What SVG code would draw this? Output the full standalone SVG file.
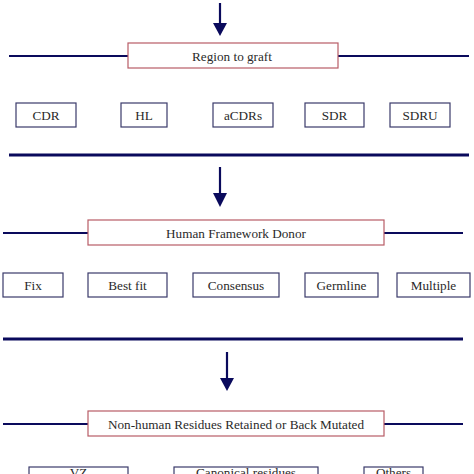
<svg xmlns="http://www.w3.org/2000/svg" width="474" height="474" viewBox="0 0 474 474">
<style>
.bg{fill:#ffffff}
.ln{stroke:#0a0a5c;stroke-width:2.2;fill:none}
.thick{stroke:#0a0a5c;stroke-width:3;fill:none}
.main rect{fill:#ffffff;stroke:#b85c66;stroke-width:1.2}
.opt rect{fill:#ffffff;stroke:#3a3a6a;stroke-width:1.2}
text{font-family:"Liberation Serif","Times New Roman",serif;font-size:13.2px;fill:#2a2a2a;text-anchor:middle}
.head{fill:#0a0a5c}
</style>
<rect class="bg" x="0" y="0" width="474" height="474"/>
<g id="connectors">
  <line class="ln" x1="220" y1="3" x2="220" y2="25"/>
  <polygon class="head" points="213,23 227,23 220,36"/>
  <line class="ln" x1="9" y1="56" x2="128" y2="56"/>
  <line class="ln" x1="338" y1="56" x2="469" y2="56"/>
  <line class="thick" x1="9" y1="155" x2="469" y2="155"/>
  <line class="ln" x1="220" y1="167" x2="220" y2="195"/>
  <polygon class="head" points="213,193 227,193 220,207"/>
  <line class="ln" x1="3" y1="233" x2="88" y2="233"/>
  <line class="ln" x1="384" y1="233" x2="463" y2="233"/>
  <line class="thick" x1="3" y1="339" x2="463" y2="339"/>
  <line class="ln" x1="227" y1="352" x2="227" y2="380"/>
  <polygon class="head" points="220,378 234,378 227,391"/>
  <line class="ln" x1="3" y1="424" x2="88" y2="424"/>
  <line class="ln" x1="384" y1="424" x2="463" y2="424"/>
</g>
<g id="region-to-graft" class="main"><rect x="128" y="43" width="210" height="25"/><text x="232" y="60.5">Region to graft</text></g>
<g id="cdr" class="opt"><rect x="16" y="103" width="60" height="24"/><text x="46" y="119.5">CDR</text></g>
<g id="hl" class="opt"><rect x="121" y="103" width="46" height="24"/><text x="144" y="119.5">HL</text></g>
<g id="acdrs" class="opt"><rect x="213" y="103" width="60" height="24"/><text x="243" y="119.5">aCDRs</text></g>
<g id="sdr" class="opt"><rect x="305" y="103" width="59" height="24"/><text x="334.5" y="119.5">SDR</text></g>
<g id="sdru" class="opt"><rect x="390" y="103" width="60" height="24"/><text x="420" y="119.5">SDRU</text></g>
<g id="human-framework-donor" class="main"><rect x="88" y="220" width="296" height="25"/><text x="236" y="237.5">Human Framework Donor</text></g>
<g id="fix" class="opt"><rect x="3" y="273" width="60" height="24"/><text x="33" y="289.5">Fix</text></g>
<g id="best-fit" class="opt"><rect x="88" y="273" width="79" height="24"/><text x="127.5" y="289.5">Best fit</text></g>
<g id="consensus" class="opt"><rect x="193" y="273" width="86" height="24"/><text x="236" y="289.5">Consensus</text></g>
<g id="germline" class="opt"><rect x="305" y="273" width="73" height="24"/><text x="341.5" y="289.5">Germline</text></g>
<g id="multiple" class="opt"><rect x="397" y="273" width="73" height="24"/><text x="433.5" y="289.5">Multiple</text></g>
<g id="non-human-residues" class="main"><rect x="88" y="411" width="296" height="25"/><text x="236" y="428.5">Non-human Residues Retained or Back Mutated</text></g>
<g id="vz" class="opt"><rect x="29" y="467" width="99" height="24"/><text x="78.5" y="477">VZ</text></g>
<g id="canonical-residues" class="opt"><rect x="174" y="467" width="144" height="24"/><text x="246" y="477">Canonical residues</text></g>
<g id="others" class="opt"><rect x="364" y="467" width="59" height="24"/><text x="393.5" y="477">Others</text></g>
</svg>
